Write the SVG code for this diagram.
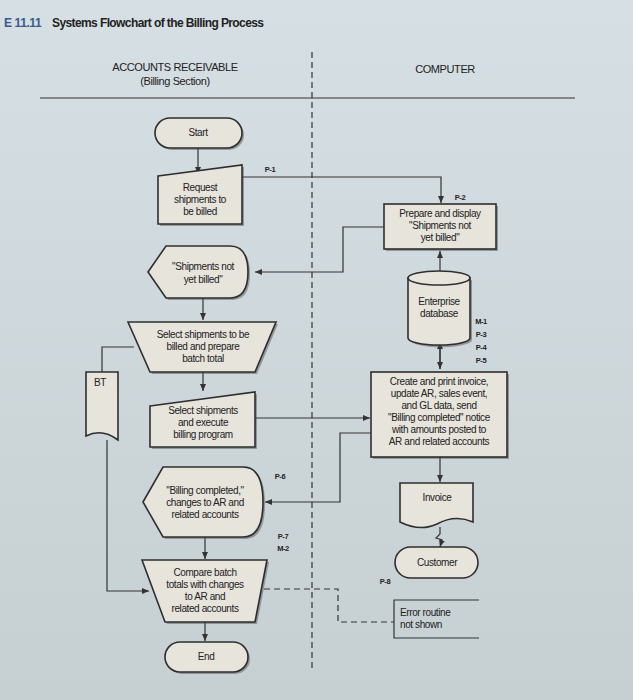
<svg xmlns="http://www.w3.org/2000/svg" width="633" height="700" viewBox="0 0 633 700">
<defs>
<linearGradient id="bg" x1="0" y1="0" x2="0" y2="1"><stop offset="0" stop-color="#d6dfe3"/><stop offset="1" stop-color="#c6d0d3"/></linearGradient>
<marker id="ar" markerWidth="8" markerHeight="8" refX="7" refY="4" orient="auto" markerUnits="userSpaceOnUse"><path d="M0,1 L7,4 L0,7 Z" fill="#333"/></marker>
</defs>
<style>
text{font-family:"Liberation Sans",Arial,sans-serif;fill:#222;font-size:10px;text-anchor:middle;letter-spacing:-0.4px}
.s{fill:#e7e4dc;stroke:#2e2e2e;stroke-width:1.6}
.sh{fill:#555;opacity:0.5}
.c{fill:none;stroke:#333;stroke-width:1.2}
.d{fill:none;stroke:#333;stroke-width:1.2;stroke-dasharray:6 4}
.l{font-size:7.5px;font-weight:bold}
.h{font-size:11px}
</style>
<rect width="633" height="700" fill="url(#bg)"/>
<text x="4" y="27" style="text-anchor:start;font-size:12px;font-weight:bold;fill:#3a5a8a">E 11.11</text>
<text x="52" y="27" style="text-anchor:start;font-size:12px;font-weight:bold;letter-spacing:-0.6px">Systems Flowchart of the Billing Process</text>
<g id="header">
<text x="175" y="71" class="h">ACCOUNTS RECEIVABLE</text>
<text x="175" y="85" class="h">(Billing Section)</text>
<text x="445" y="73" class="h">COMPUTER</text>
<line x1="40" y1="98" x2="575" y2="98" stroke="#333" stroke-width="1.2"/>
<line x1="312" y1="52" x2="312" y2="672" class="d"/>
</g>
<g id="connectors">
<path d="M198,148 V174" class="c" marker-end="url(#ar)"/>
<path d="M242,177 H441 V203" class="c" marker-end="url(#ar)"/>
<path d="M384,227 H343 V272 H255" class="c" marker-end="url(#ar)"/>
<path d="M440,273 V251" class="c" marker-end="url(#ar)"/>
<path d="M440,342 V369" class="c" marker-end="url(#ar)"/>
<path d="M440,369 V342" class="c" marker-end="url(#ar)"/>
<path d="M203,298 V320" class="c" marker-end="url(#ar)"/>
<path d="M134,347 H102 V372" class="c"/>
<path d="M107,440 V591 H149" class="c" marker-end="url(#ar)"/>
<path d="M203,372 V391" class="c" marker-end="url(#ar)"/>
<path d="M255,418 H370" class="c" marker-end="url(#ar)"/>
<path d="M371,433 H340 V502 H265" class="c" marker-end="url(#ar)"/>
<path d="M440,457 V482" class="c" marker-end="url(#ar)"/>
<path d="M440,527 V534 L436,538 L442,540 L440,547" class="c" marker-end="url(#ar)"/>
<path d="M205,537 V559" class="c" marker-end="url(#ar)"/>
<path d="M264,589 H338 V622 H394" class="d"/>
<path d="M205,622 V641" class="c" marker-end="url(#ar)"/>
<text x="270" y="172" class="l">P-1</text>
<text x="460" y="200" class="l">P-2</text>
<text x="481" y="324" class="l">M-1</text>
<text x="481" y="337" class="l">P-3</text>
<text x="481" y="350" class="l">P-4</text>
<text x="481" y="363" class="l">P-5</text>
<text x="280" y="479" class="l">P-6</text>
<text x="283" y="539" class="l">P-7</text>
<text x="283" y="551" class="l">M-2</text>
<text x="385" y="584" class="l">P-8</text>
</g>
<g id="start"><rect x="157" y="120" width="87" height="30" rx="15" class="sh"/><rect x="155" y="118" width="87" height="30" rx="15" class="s"/><text x="198" y="136">Start</text></g>
<g id="request"><path d="M160,178 L244,167 V226 H160 Z" class="sh"/><path d="M158,176 L242,165 V224 H158 Z" class="s"/><text x="200" y="191">Request</text><text x="200" y="203">shipments to</text><text x="200" y="215">be billed</text></g>
<g id="prepare"><rect x="386" y="206" width="112" height="45" class="sh"/><rect x="384" y="204" width="112" height="45" class="s"/><text x="440" y="217">Prepare and display</text><text x="440" y="229">"Shipments not</text><text x="440" y="241">yet billed"</text></g>
<g id="display1"><path d="M150,274 L168,248 H232 Q250,248 250,274 Q250,300 232,300 H168 Z" class="sh"/><path d="M148,272 L166,246 H230 Q248,246 248,272 Q248,298 230,298 H166 Z" class="s"/><text x="203" y="270">"Shipments not</text><text x="203" y="283">yet billed"</text></g>
<g id="database"><path d="M410,280 V340 A30,7 0 0 0 472,340 V280 Z" class="sh"/><path d="M408,278 V338 A31,7 0 0 0 470,338 V278 Z" class="s"/><ellipse cx="439" cy="278" rx="31" ry="7" class="s"/><text x="439" y="305">Enterprise</text><text x="439" y="317">database</text></g>
<g id="select1"><path d="M130,324 H278 L257,374 H152 Z" class="sh"/><path d="M128,322 H276 L255,372 H150 Z" class="s"/><text x="203" y="338">Select shipments to be</text><text x="203" y="350">billed and prepare</text><text x="203" y="362">batch total</text></g>
<g id="bt"><path d="M86,372 H118 V440 Q102,428 86,436 Z" class="s"/><text x="100" y="386">BT</text></g>
<g id="select2"><path d="M152,408 L257,394 V449 H152 Z" class="sh"/><path d="M150,406 L255,392 V447 H150 Z" class="s"/><text x="203" y="414">Select shipments</text><text x="203" y="426">and execute</text><text x="203" y="438">billing program</text></g>
<g id="create"><rect x="373" y="374" width="136" height="85" class="sh"/><rect x="371" y="372" width="136" height="85" class="s"/><text x="439" y="385">Create and print invoice,</text><text x="439" y="397">update AR, sales event,</text><text x="439" y="409">and GL data, send</text><text x="439" y="421">"Billing completed" notice</text><text x="439" y="433">with amounts posted to</text><text x="439" y="445">AR and related accounts</text></g>
<g id="display2"><path d="M145,504 L165,469 H245 Q265,469 265,504 Q265,539 245,539 H165 Z" class="sh"/><path d="M143,502 L163,467 H243 Q263,467 263,502 Q263,537 243,537 H163 Z" class="s"/><text x="205" y="494">"Billing completed,"</text><text x="205" y="506">changes to AR and</text><text x="205" y="518">related accounts</text></g>
<g id="invoice"><path d="M400,483 H473 V522 Q455,514 437,524 Q420,532 400,522 Z" class="s"/><text x="437" y="501">Invoice</text></g>
<g id="customer"><rect x="395" y="547" width="83" height="31" rx="15.5" class="s"/><text x="437" y="566">Customer</text></g>
<g id="compare"><path d="M144,562 H269 L257,624 H167 Z" class="sh"/><path d="M142,560 H267 L255,622 H165 Z" class="s"/><text x="205" y="576">Compare batch</text><text x="205" y="588">totals with changes</text><text x="205" y="600">to AR and</text><text x="205" y="612">related accounts</text></g>
<g id="error"><path d="M479,600 H394 V638 H479" fill="none" stroke="#333" stroke-width="1.2"/><text x="400" y="616" style="text-anchor:start">Error routine</text><text x="400" y="628" style="text-anchor:start">not shown</text></g>
<g id="end"><rect x="167" y="644" width="83" height="30" rx="15" class="sh"/><rect x="165" y="642" width="83" height="30" rx="15" class="s"/><text x="206" y="660">End</text></g>
</svg>
